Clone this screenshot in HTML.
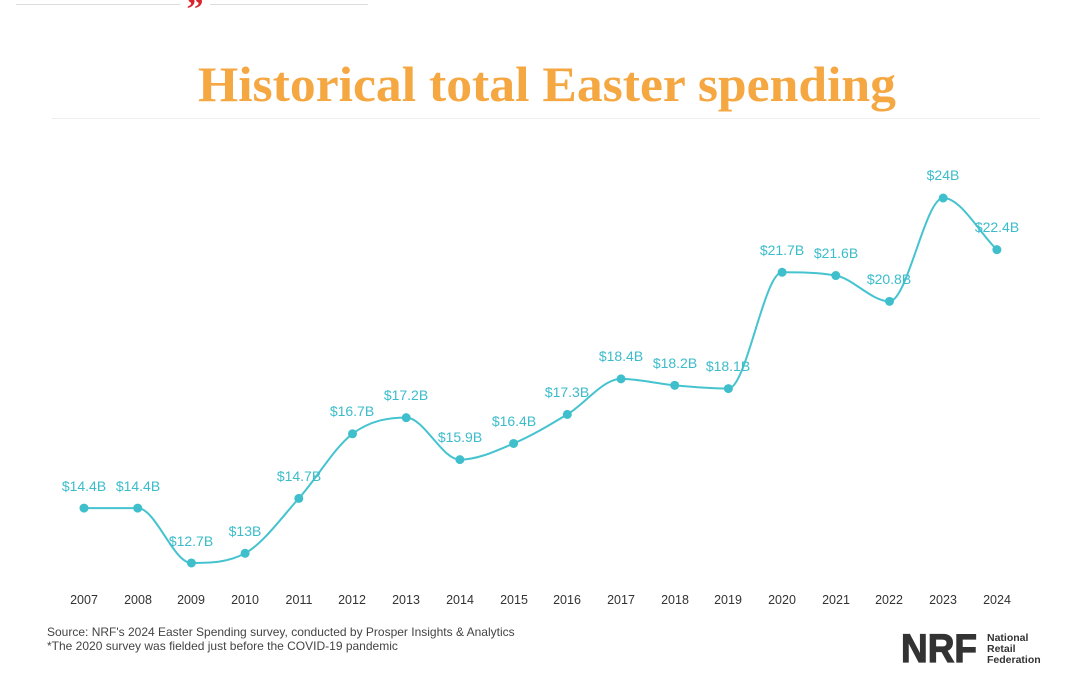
<!DOCTYPE html>
<html><head><meta charset="utf-8"><style>
body{margin:0;background:#fff;width:1072px;height:673px;overflow:hidden;font-family:"Liberation Sans",sans-serif}
</style></head><body>
<svg width="1072" height="673" viewBox="0 0 1072 673" xmlns="http://www.w3.org/2000/svg">
<line x1="16" y1="4.5" x2="368" y2="4.5" stroke="#ddd" stroke-width="1"/>
<rect x="180" y="0" width="30" height="12" fill="#fff"/>
<text x="195" y="20" text-anchor="middle" font-family="Liberation Serif,serif" font-weight="bold" font-size="34" fill="#d9252b">”</text>
<text x="198" y="101" textLength="698" lengthAdjust="spacingAndGlyphs" font-family="Liberation Serif,serif" font-weight="bold" font-size="50" fill="#f5a742">Historical total Easter spending</text>
<line x1="52" y1="118.5" x2="1040" y2="118.5" stroke="#eee" stroke-width="1"/>
<path id="ln" fill="none" stroke="#45c3cf" stroke-width="2"/>
<g id="dots" fill="#3fbfcc"></g>
<g font-size="14" fill="#3bbccb" text-anchor="middle">
<text x="84" y="491">$14.4B</text>
<text x="138" y="491">$14.4B</text>
<text x="191" y="546">$12.7B</text>
<text x="245" y="536">$13B</text>
<text x="299" y="481">$14.7B</text>
<text x="352" y="416">$16.7B</text>
<text x="406" y="400">$17.2B</text>
<text x="460" y="442">$15.9B</text>
<text x="514" y="426">$16.4B</text>
<text x="567" y="397">$17.3B</text>
<text x="621" y="361">$18.4B</text>
<text x="675" y="368">$18.2B</text>
<text x="728" y="371">$18.1B</text>
<text x="782" y="255">$21.7B</text>
<text x="836" y="258">$21.6B</text>
<text x="889" y="284">$20.8B</text>
<text x="943" y="180">$24B</text>
<text x="997" y="232">$22.4B</text>
</g>
<g font-size="12.5" fill="#333" text-anchor="middle">
<text x="84" y="604">2007</text><text x="138" y="604">2008</text><text x="191" y="604">2009</text><text x="245" y="604">2010</text><text x="299" y="604">2011</text><text x="352" y="604">2012</text><text x="406" y="604">2013</text><text x="460" y="604">2014</text><text x="514" y="604">2015</text><text x="567" y="604">2016</text><text x="621" y="604">2017</text><text x="675" y="604">2018</text><text x="728" y="604">2019</text><text x="782" y="604">2020</text><text x="836" y="604">2021</text><text x="889" y="604">2022</text><text x="943" y="604">2023</text><text x="997" y="604">2024</text>
</g>
<text x="47" y="636" font-size="12" fill="#444">Source: NRF's 2024 Easter Spending survey, conducted by Prosper Insights &amp; Analytics</text>
<text x="47" y="650" font-size="12" fill="#444">*The 2020 survey was fielded just before the COVID-19 pandemic</text>
<text x="901" y="662" font-size="40" font-weight="bold" fill="#333" stroke="#333" stroke-width="1.2" textLength="76" lengthAdjust="spacingAndGlyphs">NRF</text>
<g font-size="10.5" font-weight="bold" fill="#333"><text x="987" y="641">National</text><text x="987" y="652">Retail</text><text x="987" y="663">Federation</text></g>
</svg>
<script>
var v=[14.4,14.4,12.7,13,14.7,16.7,17.2,15.9,16.4,17.3,18.4,18.2,18.1,21.7,21.6,20.8,24,22.4];
var X=v.map((a,i)=>84+i*53.7),Y=v.map(a=>198+(24-a)*32.3),n=v.length;
var d=[],m=[];for(var i=0;i<n-1;i++)d.push((Y[i+1]-Y[i])/(X[i+1]-X[i]));
m[0]=d[0];m[n-1]=d[n-2];for(i=1;i<n-1;i++){m[i]=(d[i-1]*d[i]<=0)?0:(d[i-1]+d[i])/2;}
for(i=0;i<n-1;i++){if(d[i]==0){m[i]=m[i+1]=0;continue;}var a=m[i]/d[i],b=m[i+1]/d[i],s=a*a+b*b;if(s>9){var t=3/Math.sqrt(s);m[i]=t*a*d[i];m[i+1]=t*b*d[i];}}
var p="M"+X[0]+","+Y[0];for(i=0;i<n-1;i++){var h=(X[i+1]-X[i])/3;p+=" C"+(X[i]+h)+","+(Y[i]+m[i]*h)+" "+(X[i+1]-h)+","+(Y[i+1]-m[i+1]*h)+" "+X[i+1]+","+Y[i+1];}
document.getElementById("ln").setAttribute("d",p);
var g=document.getElementById("dots"),s="";for(i=0;i<n;i++)s+='<circle cx="'+X[i]+'" cy="'+Y[i]+'" r="4.5"/>';g.innerHTML=s;
</script>
</body></html>
